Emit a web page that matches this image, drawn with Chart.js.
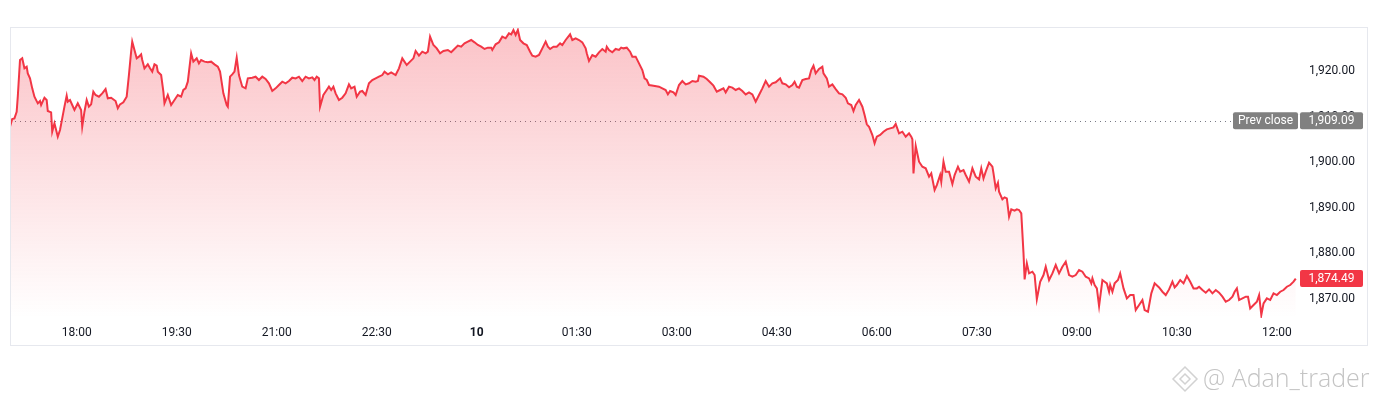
<!DOCTYPE html>
<html>
<head>
<meta charset="utf-8">
<script src="https://cdn.jsdelivr.net/npm/chart.js@4.4.1/dist/chart.umd.min.js"></script>
<style>
  html, body { margin: 0; padding: 0; background: #ffffff; }
  #wrap { position: relative; width: 1378px; height: 407px; }
</style>
</head>
<body>
<div id="wrap"><canvas id="grafico" width="1378" height="407"></canvas></div>
<script>
// minutos desde 17:00 (dia 9) e preço
var minutos = [
  0,2,4,6,7,9,11,13,15,16,18,20,22,25,27,28,31,33,34,37,38,40,43,45,47,49,51,52,54,56,
  58,61,64,65,67,69,71,73,75,77,80,83,86,88,91,95,97,99,102,105,107,109,110,112,114,116,118,119,121,124,
  126,128,130,132,133,136,138,139,142,145,148,151,154,156,158,160,163,165,168,170,172,175,178,181,184,187,189,192,195,
  196,198,200,202,204,206,209,212,214,218,221,224,227,230,233,236,239,242,245,248,
  251,254,257,260,263,266,269,272,274,276,278,279,282,285,287,289,291,293,296,299,
  302,305,307,310,312,315,317,320,323,326,329,332,335,337,340,343,347,350,353,357,
  360,363,365,368,371,374,376,378,381,384,387,
  390,394,397,399,403,406,409,412,415,418,421,424,427,430,433,434,437,440,443,446,
  449,451,453,455,457,459,462,465,468,470,473,476,479,482,484,486,489,492,495,497,
  500,504,506,509,512,515,518,519,521,524,527,530,533,536,537,539,542,545,548,550,
  552,555,558,560,563,566,569,571,573,575,579,
  584,587,590,592,594,597,599,602,605,608,611,614,617,619,620,624,627,630,633,636,
  639,642,644,647,650,653,656,659,662,665,668,671,674,677,680,683,686,689,693,695,
  698,701,704,706,708,710,713,716,719,721,723,725,728,731,732,735,737,740,743,746,
  749,752,754,757,759,761,764,767,769,771,773,
  776,778,780,783,786,789,792,795,797,800,803,806,809,811,812,813,815,818,821,824,
  827,829,832,834,837,838,840,842,845,848,850,853,855,858,860,863,866,869,872,874,
  876,878,881,884,885,887,889,890,893,895,897,899,901,904,906,908,910,912,913,915,
  917,920,922,924,927,930,932,935,938,941,944,947,950,953,956,959,
  962,965,968,971,973,974,976,978,980,983,985,987,989,990,992,994,997,999,1002,1005,
  1008,1011,1013,1016,1019,1021,1024,1027,1030,1034,1037,1040,1043,1046,1048,1050,1053,1056,1059,1062,
  1065,1068,1070,1073,1076,1079,1082,1085,1088,1091,1094,1097,1100,1102,1104,1106,1109,1112,1114,1116,
  1119,1122,1124,1126,1128,1131,1134,1137,1140,1143,1146,1149,1152,1155,1157
];

var precos = [
  1907.79,1909.48,1909.62,1911.08,1914.37,1922.41,1922.78,1920.59,1920.95,1919.49,
  1918.39,1916.20,1914.37,1912.91,1913.42,1912.55,1914.15,1913.64,1911.23,1910.94,
  1906.70,1908.53,1905.60,1907.06,1909.62,1912.18,1914.59,1913.28,1913.64,1912.55,
  1911.45,1912.91,1911.45,1907.79,1911.08,1913.64,1912.18,1912.69,1915.47,1914.74,
  1914.37,1915.10,1916.05,1914.01,1914.15,1913.42,1911.82,1912.69,1913.13,1914.37,
  1919.12,1924.24,1926.44,1924.61,1922.78,1923.15,1923.66,1922.41,1920.59,1921.46,
  1920.59,1919.86,1921.46,1921.17,1919.86,1919.12,1915.47,1912.91,1914.74,1912.55,
  1913.64,1914.74,1914.37,1915.84,1916.20,1917.66,1923.88,1922.05,1922.78,1921.68,
  1922.41,1922.05,1921.90,1922.05,1921.46,1920.95,1919.86,1915.10,1912.55,
  1912.18,1918.76,1919.27,1919.86,1922.93,1919.12,1916.57,1916.20,1918.39,1918.54,
  1918.76,1918.03,1918.76,1918.25,1917.30,1915.62,1916.20,1916.93,1917.66,1917.30,
  1917.81,1918.54,1918.39,1918.76,1917.81,1918.76,1918.39,1918.61,1918.03,1918.76,
  1918.39,1912.18,1914.74,1915.84,1916.57,1915.84,1916.57,1915.10,1913.64,1914.15,
  1915.10,1917.08,1916.20,1916.57,1914.37,1915.47,1915.62,1914.74,1917.30,1918.03,
  1918.39,1918.76,1919.12,1919.86,1919.27,1919.71,1919.12,1920.59,1922.78,1921.32,
  1922.05,1922.78,1924.39,1923.36,1924.24,1923.88,1924.24,1927.53,1925.70,1924.97,
  1923.88,
  1924.39,1924.61,1924.10,1924.61,1925.56,1925.34,1926.07,1926.44,1926.80,1926.29,
  1925.70,1925.34,1924.83,1925.12,1925.12,1924.61,1925.85,1926.29,1927.53,1927.17,
  1928.26,1928.04,1928.99,1927.90,1928.99,1926.80,1926.07,1925.70,1924.24,1923.36,
  1923.15,1923.51,1924.97,1926.44,1925.34,1924.83,1925.34,1925.34,1926.07,1925.70,
  1926.80,1928.04,1926.80,1927.17,1926.80,1926.29,1924.97,1923.88,1922.20,1923.51,
  1923.15,1924.10,1924.83,1924.24,1925.34,1924.61,1924.10,1924.83,1924.61,1925.12,
  1924.97,1925.12,1924.24,1923.15,1923.15,1921.68,1920.22,1918.39,1918.03,1916.93,
  1916.79,
  1916.57,1916.20,1915.84,1914.88,1915.62,1915.32,1914.74,1916.93,1917.81,1917.08,
  1917.30,1917.81,1917.66,1917.81,1918.98,1918.76,1918.25,1917.52,1916.79,1915.47,
  1915.84,1916.20,1915.32,1916.57,1916.35,1915.84,1916.20,1915.62,1914.88,1915.32,
  1914.88,1913.28,1914.74,1916.20,1917.81,1916.57,1917.30,1917.52,1918.39,1917.30,
  1917.08,1916.42,1916.93,1917.66,1916.57,1916.35,1918.03,1918.25,1918.39,1920.22,
  1921.17,1919.49,1920.44,1920.95,1919.49,1918.39,1916.57,1917.08,1916.05,1915.10,
  1914.88,1914.15,1912.91,1912.55,1911.23,1912.55,1913.64,1912.18,1910.35,1908.31,
  1907.79,
  1905.97,1904.14,1905.60,1905.97,1906.70,1907.21,1907.43,1907.65,1908.38,1906.33,
  1906.70,1905.60,1906.33,1905.60,1905.02,1897.56,1903.56,1900.12,1899.02,1898.66,
  1896.83,1897.56,1893.91,1895.00,1897.20,1895.73,1900.12,1897.93,1897.93,1895.22,
  1897.20,1899.02,1897.93,1898.29,1897.20,1895.73,1898.66,1896.83,1896.25,1898.66,
  1896.46,1897.93,1899.90,1899.02,1897.56,1894.27,1895.51,1893.54,1891.86,1892.30,
  1892.08,1888.06,1889.67,1889.37,1889.67,1889.52,1888.79,1880.02,1874.32,1877.83,
  1875.63,1876.00,1875.27,1869.93,1873.80,1875.27,1877.09,1874.17,1875.63,1877.46,
  1875.63,1877.09,1878.19,1875.27,1874.90,1875.27,
  1876.36,1876.00,1874.90,1874.54,1873.44,1874.54,1873.08,1872.34,1868.47,1874.17,
  1873.81,1873.44,1871.61,1873.08,1871.61,1873.44,1874.17,1875.63,1872.34,1870.15,
  1870.88,1870.88,1867.59,1868.69,1869.78,1867.59,1867.23,1871.25,1873.44,1872.56,
  1871.61,1870.88,1872.12,1873.81,1872.56,1873.08,1874.17,1873.44,1875.05,1873.81,
  1872.34,1872.34,1872.71,1871.98,1871.39,1872.12,1871.25,1871.98,1871.39,1870.52,
  1869.42,1869.79,1870.52,1871.61,1872.34,1869.79,1870.15,1870.52,1870.52,1867.96,
  1868.69,1869.42,1870.88,1866.50,1869.05,1870.15,1869.79,1871.25,1870.88,1871.61,
  1871.98,1872.71,1873.08,1873.81,1874.49
];

var tickMinutos = [60,150,240,330,420,510,600,690,780,870,960,1050,1140];
var tickRotulos = ["18:00","19:30","21:00","22:30","10","01:30","03:00","04:30","06:00","07:30","09:00","10:30","12:00"];
var tickPrecos = [1870,1880,1890,1900,1910,1920];

var fechamentoAnterior = 1909.09;
var ultimoPreco = 1874.49;
var marcaDagua = "@ Adan_trader";

var vermelho = "#f23645";
var cinza = "#808080";
var fonte = "Roboto, 'DejaVu Sans', sans-serif";

function formata(v){
  return v.toLocaleString("en-US", {minimumFractionDigits: 2, maximumFractionDigits: 2});
}

function badge(ctx, x, y, w, h, cor, texto){
  ctx.fillStyle = cor;
  ctx.beginPath();
  if (ctx.roundRect) ctx.roundRect(x, y, w, h, 2); else ctx.rect(x, y, w, h);
  ctx.fill();
  ctx.fillStyle = "#ffffff";
  ctx.font = "12px " + fonte;
  ctx.textBaseline = "middle";
  ctx.textAlign = "center";
  ctx.fillText(texto, x + w / 2, y + h / 2 + 0.5);
}

var extras = {
  id: "extras",
  beforeDatasetsDraw: function(chart){
    var ctx = chart.ctx, area = chart.chartArea;
    var y = Math.round(chart.scales.y.getPixelForValue(fechamentoAnterior)) + 0.5;
    ctx.save();
    ctx.strokeStyle = "#787b86";
    ctx.lineWidth = 1;
    ctx.setLineDash([1, 4]);
    ctx.beginPath();
    ctx.moveTo(area.left, y);
    ctx.lineTo(1233, y);
    ctx.stroke();
    ctx.restore();
  },
  afterDraw: function(chart){
    var ctx = chart.ctx;
    var yPrev = chart.scales.y.getPixelForValue(fechamentoAnterior);
    var yUlt = chart.scales.y.getPixelForValue(ultimoPreco);
    ctx.save();
    // moldura
    ctx.strokeStyle = "#e6e8ee";
    ctx.lineWidth = 1;
    ctx.strokeRect(10.5, 27.5, 1357, 318);

    badge(ctx, 1233, yPrev - 8.5, 65, 17, cinza, "Prev close");
    badge(ctx, 1300, yPrev - 8.5, 63, 17, cinza, formata(fechamentoAnterior));
    badge(ctx, 1300, yUlt - 8.5, 63, 17, vermelho, formata(ultimoPreco));

    // marca d'agua
    ctx.strokeStyle = "#d2d2d2";
    ctx.lineWidth = 1.5;
    var cx = 1185, cy = 379;
    ctx.beginPath();
    ctx.moveTo(cx, cy - 12); ctx.lineTo(cx + 12, cy); ctx.lineTo(cx, cy + 12); ctx.lineTo(cx - 12, cy); ctx.closePath();
    ctx.stroke();
    ctx.beginPath();
    ctx.moveTo(cx, cy - 5); ctx.lineTo(cx + 5, cy); ctx.lineTo(cx, cy + 5); ctx.lineTo(cx - 5, cy); ctx.closePath();
    ctx.stroke();
    ctx.fillStyle = "#c4c4c4";
    ctx.font = "300 25px 'Open Sans', sans-serif";
    ctx.textAlign = "left";
    ctx.textBaseline = "alphabetic";
    ctx.fillText(marcaDagua, 1203, 387);
    ctx.restore();
  }
};

function draw(){
  var pontos = [];
  var n = Math.min(minutos.length, precos.length);
  for (var i = 0; i < n; i++){
    pontos.push({x: minutos[i], y: precos[i]});
  }

  var canvas = document.getElementById("grafico");
  var context = canvas.getContext("2d");

  new Chart(context, {
    type: "line",
    data: {
      datasets: [{
        data: pontos,
        borderColor: vermelho,
        borderWidth: 2,
        pointRadius: 0,
        tension: 0,
        fill: "start",
        backgroundColor: function(c){
          var area = c.chart.chartArea;
          if (!area) return "rgba(242,54,69,0.2)";
          var g = c.chart.ctx.createLinearGradient(0, area.top, 0, area.bottom);
          g.addColorStop(0, "rgba(242,54,69,0.30)");
          g.addColorStop(1, "rgba(242,54,69,0.0)");
          return g;
        }
      }]
    },
    options: {
      responsive: false,
      animation: false,
      devicePixelRatio: 1,
      layout: { padding: { left: 10, top: 27, right: 10, bottom: 61 } },
      plugins: { legend: { display: false }, tooltip: { enabled: false } },
      scales: {
        x: {
          type: "linear",
          min: 0,
          max: 1159,
          grid: { display: false, drawTicks: false },
          border: { display: false },
          afterBuildTicks: function(s){ s.ticks = tickMinutos.map(function(v){ return {value: v}; }); },
          afterFit: function(s){ s.height = 28; },
          ticks: {
            autoSkip: false,
            maxRotation: 0,
            padding: 8,
            color: "#131722",
            font: function(c){
              var r = tickRotulos[tickMinutos.indexOf(c.tick && c.tick.value)];
              return { family: fonte, size: 12, weight: r === "10" ? "bold" : "normal" };
            },
            callback: function(v){ return tickRotulos[tickMinutos.indexOf(v)]; }
          }
        },
        y: {
          position: "right",
          min: 1865.85,
          max: 1929.65,
          grid: { display: false, drawTicks: false },
          border: { display: false },
          afterBuildTicks: function(s){ s.ticks = tickPrecos.map(function(v){ return {value: v}; }); },
          afterFit: function(s){ s.width = 70; },
          ticks: {
            padding: 11,
            color: "#131722",
            font: { family: fonte, size: 12 },
            callback: function(v){ return formata(v); }
          }
        }
      }
    },
    plugins: [extras]
  });
}

draw();
</script>
</body>
</html>
